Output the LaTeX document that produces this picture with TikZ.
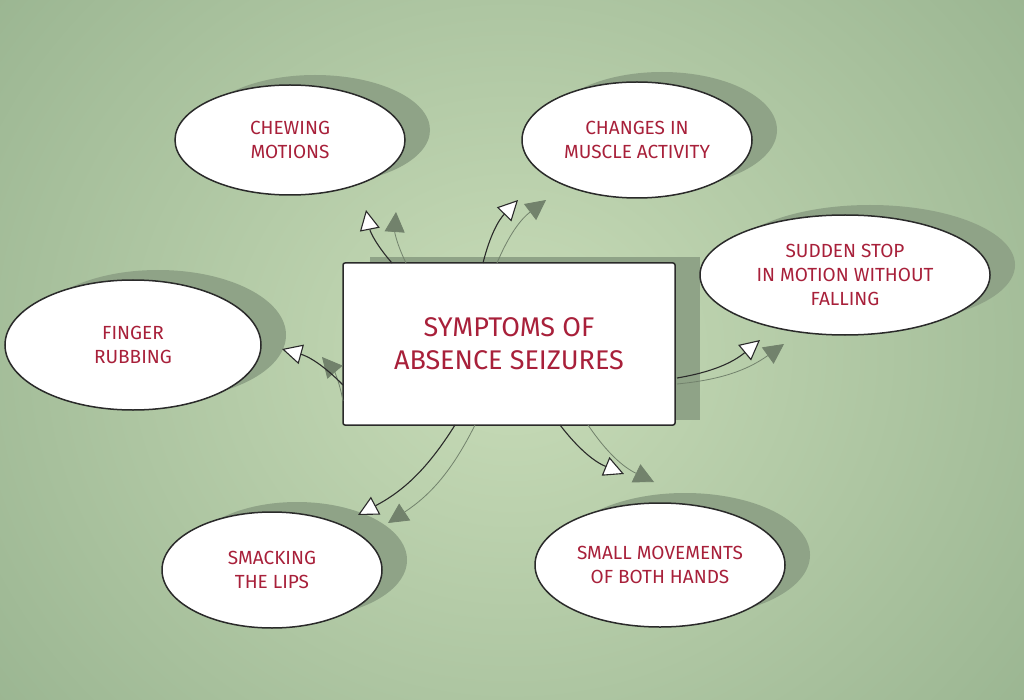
\documentclass[tikz,border=0pt]{standalone}
\usepackage{fontspec}
\setmainfont{Fira Sans}
\usetikzlibrary{arrows.meta,shapes.geometric}
\definecolor{txt}{HTML}{A8203A}
\definecolor{shd}{HTML}{8FA387}
\definecolor{bgin}{HTML}{C8DCB8}
\definecolor{bgout}{HTML}{9AB591}
\definecolor{ink}{HTML}{2A2A2A}
\begin{document}
\begin{tikzpicture}[x=1pt,y=-1pt,
  bub/.style={ellipse,draw=ink,line width=1.5pt,fill=white,inner sep=0pt,text=txt,align=center,font=\fontsize{19}{24}\selectfont},
  sh/.style={ellipse,fill=shd,draw=none,inner sep=0pt},
  con/.style={draw=ink,line width=1.1pt,-{Triangle[open,fill=white,length=20pt,width=20pt,line width=1.1pt]}},
  cons/.style={draw=shd!80!black,line width=0.8pt,-{Triangle[fill=shd!80!black,length=20pt,width=20pt]}}]
\useasboundingbox (0,0) rectangle (1024,700);
\shade[inner color=bgin,outer color=bgout] (-150,-250) rectangle (1174,950);
% shadows
\fill[shd] (370,257) rectangle (700,420);
\node[sh,minimum width=230,minimum height=110] at (315,130) {};
\node[sh,minimum width=230,minimum height=116] at (662,130) {};
\node[sh,minimum width=290,minimum height=120] at (870,265) {};
\node[sh,minimum width=256,minimum height=130] at (158,335) {};
\node[sh,minimum width=220,minimum height=116] at (297,560) {};
\node[sh,minimum width=250,minimum height=124] at (685,555) {};
% nodes
\node[draw=ink,line width=1.5pt,fill=white,minimum width=332,minimum height=162,text=txt,align=center,font=\fontsize{27}{33}\selectfont,rounded corners=2pt] (c) at (509,344) {SYMPTOMS OF\\ABSENCE SEIZURES};
\node[bub,minimum width=230,minimum height=110] (a) at (290,140) {CHEWING\\MOTIONS};
\node[bub,minimum width=230,minimum height=116] (b) at (637,140) {CHANGES IN\\MUSCLE ACTIVITY};
\node[bub,minimum width=290,minimum height=120] (d) at (845,275) {SUDDEN STOP\\IN MOTION WITHOUT\\FALLING};
\node[bub,minimum width=256,minimum height=130] (e) at (133,345) {FINGER\\RUBBING};
\node[bub,minimum width=220,minimum height=116] (f) at (272,570) {SMACKING\\THE LIPS};
\node[bub,minimum width=250,minimum height=124] (g) at (660,565) {SMALL MOVEMENTS\\OF BOTH HANDS};
% coordinates
\coordinate (a1) at (392,263); \coordinate (a2) at (366,210);
\coordinate (b1) at (483,263); \coordinate (b2) at (518,200);
\coordinate (d1) at (677,378); \coordinate (d2) at (760,340);
\coordinate (e1) at (343,385); \coordinate (e2) at (282,349);
\coordinate (f1) at (455,425); \coordinate (f2) at (358,515);
\coordinate (g1) at (560,425); \coordinate (g2) at (624,474);
% shadow arrows
\draw[cons] ([xshift=14]a1) to[bend left=15] ([xshift=30,yshift=-2]a2);
\draw[cons] ([xshift=14]b1) to[bend left=15] ([xshift=28,yshift=0]b2);
\draw[cons] ([yshift=-6]d1) to[bend right=15] ([xshift=24,yshift=-4]d2);
\draw[cons] ([yshift=-16]e1) to[bend right=15] ([xshift=40,yshift=-8]e2);
\draw[cons] ([xshift=20]f1) to[bend left=15] ([xshift=30,yshift=-8]f2);
\draw[cons] ([xshift=28]g1) to[bend right=15] ([xshift=30,yshift=-8]g2);
% arrows
\draw[con] (a1) to[bend left=15] (a2);
\draw[con] (b1) to[bend left=15] (b2);
\draw[con] (d1) to[bend right=15] (d2);
\draw[con] (e1) to[bend right=15] (e2);
\draw[con] (f1) to[bend left=15] (f2);
\draw[con] (g1) to[bend right=15] (g2);
\end{tikzpicture}
\end{document}
